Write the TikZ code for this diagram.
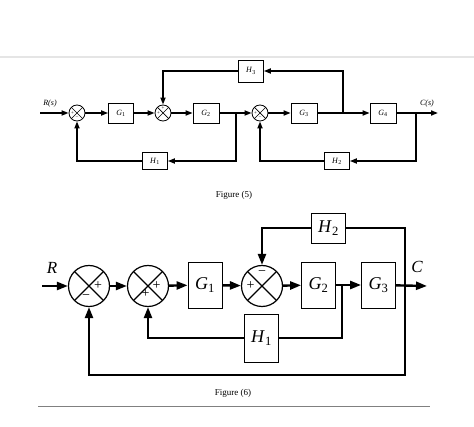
\documentclass[tikz,border=0pt]{standalone}
\usepackage{fontspec}
\setmainfont{Liberation Serif}
\usetikzlibrary{arrows.meta}
\tikzset{
	sumcircle/.style={circle,draw,inner sep=0pt,
		path picture={\draw[line width=#1]
			(path picture bounding box.north west) -- (path picture bounding box.south east)
			(path picture bounding box.north east) -- (path picture bounding box.south west);}},
}
\begin{document}
\begin{tikzpicture}[x=1pt,y=-1pt,
		sumA/.style={sumcircle=0.7pt,minimum size=16pt,line width=0.8pt},
		blkA/.style={draw,line width=0.7pt,minimum width=25pt,minimum height=#1,inner sep=0pt,font=\fontsize{8}{8}\selectfont},
		wireA/.style={line width=1.6pt},
		arrA/.style={wireA,-{Triangle[length=7pt,width=5pt]}},
		sgnA/.style={font=\fontsize{5}{5}\selectfont,inner sep=0pt},
		sumB/.style={sumcircle=1.1pt,minimum size=41pt,line width=1.2pt},
		blkB/.style={draw,line width=0.8pt,minimum width=34pt,minimum height=#1,inner sep=0pt,font=\fontsize{18}{18}\selectfont},
		wireB/.style={line width=2.4pt},
		arrB/.style={wireB,-{Triangle[length=11pt,width=8pt]}},
		sgnB/.style={font=\fontsize{14}{14}\selectfont,inner sep=0pt},
		figcap/.style={font=\fontsize{9}{9}\selectfont}]
	\useasboundingbox (0,0) rectangle (474,427);
	\draw[gray!20,line width=1.2pt] (0,57) -- (474,57);
	\node[sumA] (s51) at (77,113) {};
	\node[sumA] (s52) at (163,113) {};
	\node[sumA] (s53) at (260,113) {};
	\node[blkA=20pt] (G51) at (121,113) {\textit{G}\textsubscript{1}};
	\node[blkA=20pt,minimum width=26pt] (G52) at (206,113) {\textit{G}\textsubscript{2}};
	\node[blkA=20pt,minimum width=26pt] (G53) at (304,113) {\textit{G}\textsubscript{3}};
	\node[blkA=20pt,minimum width=26pt] (G54) at (383,113) {\textit{G}\textsubscript{4}};
	\node[blkA=22pt] (H53) at (251,71) {\textit{H}\textsubscript{3}};
	\node[blkA=17pt] (H51) at (155,161) {\textit{H}\textsubscript{1}};
	\node[blkA=17pt] (H52) at (337,161) {\textit{H}\textsubscript{2}};
	\coordinate (in5) at (40,113);
	\coordinate (out5) at (438,113);
	\coordinate (b51) at (236,113);
	\coordinate (b52) at (343,113);
	\coordinate (b53) at (416,113);
	\node[font=\fontsize{8}{8}\selectfont\itshape] (R5) at (50,104) {R(s)};
	\node[font=\fontsize{8}{8}\selectfont\itshape] (C5) at (427,104) {C(s)};
	\node[sgnA] at ([shift={(-4.5,0)}]s51.center) {+};
	\node[sgnA] at ([shift={(0,4.5)}]s51.center) {−};
	\node[sgnA] at ([shift={(0,-4.5)}]s52.center) {+};
	\node[sgnA] at ([shift={(-4.5,0)}]s52.center) {+};
	\node[sgnA] at ([shift={(-4.5,0)}]s53.center) {+};
	\node[sgnA] at ([shift={(0,4.5)}]s53.center) {−};
	\draw[arrA] (in5) -- (s51);
	\draw[arrA] (s51) -- (G51);
	\draw[arrA] (G51) -- (s52);
	\draw[arrA] (s52) -- (G52);
	\draw[arrA] (G52) -- (s53);
	\draw[arrA] (s53) -- (G53);
	\draw[arrA] (G53) -- (G54);
	\draw[arrA] (G54) -- (out5);
	\draw[arrA] (b51) |- (H51);
	\draw[arrA] (H51) -| (s51);
	\draw[arrA] (b52) |- (H53);
	\draw[arrA] (H53) -| (s52);
	\draw[arrA] (b53) |- (H52);
	\draw[arrA] (H52) -| (s53);
	\node[figcap] (F5) at (234,195) {Figure (5)};
	\node[sumB] (s61) at (89,286) {};
	\node[sumB] (s62) at (148,286) {};
	\node[sumB] (s63) at (262,286) {};
	\node[blkB=46pt] (G61) at (205,285) {\textit{G}\textsubscript{1}};
	\node[blkB=46pt] (G62) at (318.5,285) {\textit{G}\textsubscript{2}};
	\node[blkB=46pt] (G63) at (378.5,285) {\textit{G}\textsubscript{3}};
	\node[blkB=48pt] (H61) at (261.5,338) {\textit{H}\textsubscript{1}};
	\node[blkB=30pt] (H62) at (328.5,228) {\textit{H}\textsubscript{2}};
	\coordinate (in6) at (42,286);
	\coordinate (out6) at (427,286);
	\coordinate (b61) at (342,286);
	\coordinate (b62) at (405,286);
	\coordinate (c61) at (405,375);
	\node[font=\fontsize{17}{17}\selectfont\itshape] (R6) at (52,268) {R};
	\node[font=\fontsize{17}{17}\selectfont\itshape] (C6) at (417,267) {C};
	\node[sgnB] at ([shift={(9,0)}]s61.center) {+};
	\node[sgnB] at ([shift={(-3,11)}]s61.center) {−};
	\node[sgnB] at ([shift={(8.5,0)}]s62.center) {+};
	\node[sgnB] at ([shift={(-2.5,7.5)}]s62.center) {+};
	\node[sgnB] at ([shift={(0,-13)}]s63.center) {−};
	\node[sgnB] at ([shift={(-11.5,0)}]s63.center) {+};
	\draw[arrB] (in6) -- (s61);
	\draw[arrB] (s61) -- (s62);
	\draw[arrB] (s62) -- (G61);
	\draw[arrB] (G61) -- (s63);
	\draw[arrB] (s63) -- (G62);
	\draw[arrB] (G62) -- (G63);
	\draw[arrB] (G63) -- (out6);
	\draw[wireB] (b61) |- (H61);
	\draw[arrB] (H61) -| (s62);
	\draw[wireB] (b62) |- (H62);
	\draw[arrB] (H62) -| (s63);
	\draw[arrB] (b62) -- (c61) -| (s61);
	\node[figcap] (F6) at (233,393) {Figure (6)};
	\draw[gray,line width=0.8pt] (38,406) -- (430,406);
\end{tikzpicture}
\end{document}
